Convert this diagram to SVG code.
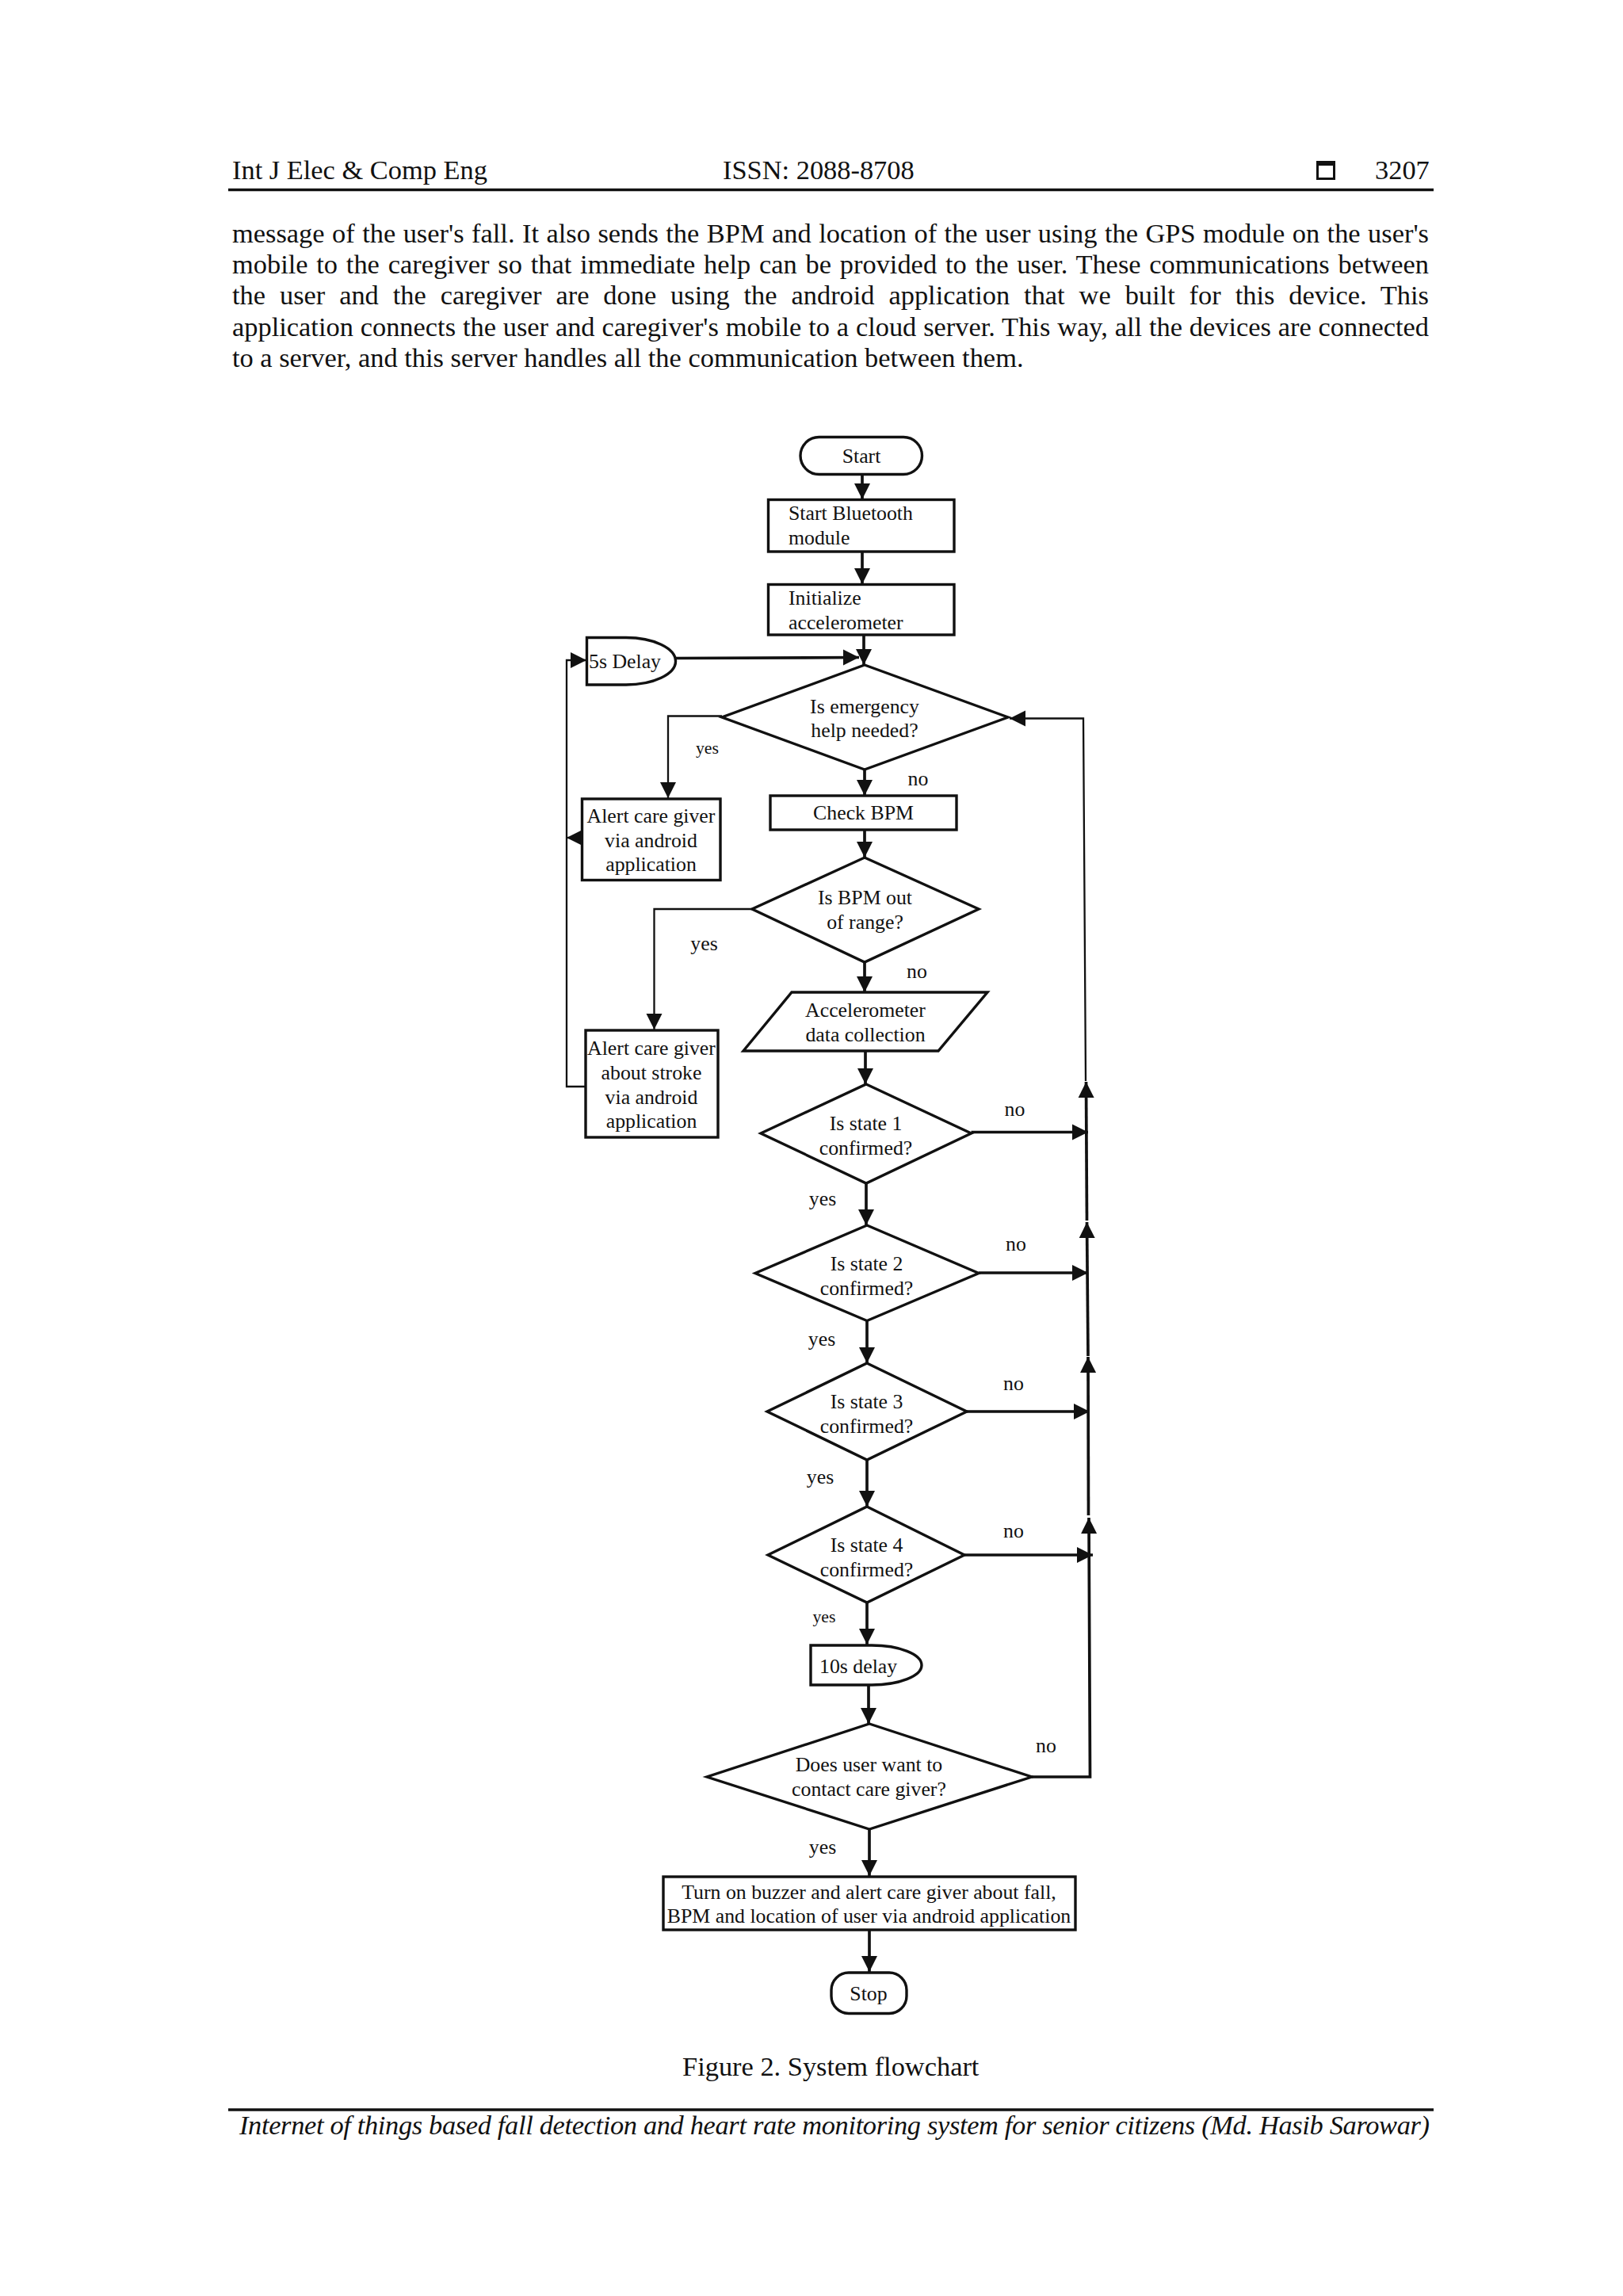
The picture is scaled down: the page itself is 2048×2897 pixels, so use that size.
<svg xmlns="http://www.w3.org/2000/svg" width="2048" height="2897" viewBox="0 0 2048 2897">
<style>
text{font-family:"Liberation Serif","Times New Roman",serif;fill:#111}
.p{font-size:34.4px}
.i{font-style:italic}
.n{font-size:25.8px;text-anchor:middle;transform:translateY(-1.2px)}
.l{text-anchor:start}
.s{font-size:21.8px;text-anchor:middle;transform:translateY(-1px)}
.b{fill:#fff;stroke:#111;stroke-width:3.4}
.c{fill:none;stroke:#111;stroke-width:3.7}
.t{fill:none;stroke:#111;stroke-width:2.3}
.a{marker-end:url(#ah)}
.r{stroke:#111;stroke-width:3.4}
</style>
<defs>
<marker id="ah" markerUnits="userSpaceOnUse" markerWidth="21" markerHeight="21" refX="20" refY="10.5" orient="auto" viewBox="0 0 21 21"><path d="M0,0.5 L20,10.5 L0,20.5 Z" fill="#111"/></marker>
</defs>
<rect width="2048" height="2897" fill="#fff"/>

<g id="page-text">
<text class="p" x="293" y="226">Int J Elec &amp; Comp Eng</text>
<text class="p" x="912" y="226">ISSN: 2088-8708</text>
<rect x="1662.5" y="204.5" width="21" height="21" fill="none" stroke="#111" stroke-width="3"/>
<rect x="1662" y="203" width="22" height="6" fill="#111"/>
<text class="p" x="1735" y="226">3207</text>
<line class="r" x1="288" y1="239.5" x2="1809" y2="239.5"/>
<text class="p" x="293" y="306" word-spacing="0.88" textLength="1510">message of the user's fall. It also sends the BPM and location of the user using the GPS module on the user's</text>
<text class="p" x="293" y="344.5" word-spacing="2.21" textLength="1510">mobile to the caregiver so that immediate help can be provided to the user. These communications between</text>
<text class="p" x="293" y="384" word-spacing="9.34" textLength="1510">the user and the caregiver are done using the android application that we built for this device. This</text>
<text class="p" x="293" y="423.5" word-spacing="0.24" textLength="1510">application connects the user and caregiver's mobile to a cloud server. This way, all the devices are connected</text>
<text class="p" x="293" y="463">to a server, and this server handles all the communication between them.</text>
<text class="p" x="861" y="2619">Figure 2. System flowchart</text>
<line class="r" x1="288" y1="2662" x2="1809" y2="2662"/>
<text class="p i" x="302" y="2693" textLength="1502">Internet of things based fall detection and heart rate monitoring system for senior citizens (Md. Hasib Sarowar)</text>
</g>

<g id="connectors">
<line class="c a" x1="1088" y1="598" x2="1088" y2="630"/>
<line class="c a" x1="1088" y1="696" x2="1088" y2="737"/>
<line class="c a" x1="1090" y1="801" x2="1090" y2="839"/>
<line class="c a" x1="852" y1="830.5" x2="1084" y2="829.5"/>
<polyline class="t a" points="911,903.5 843,903.5 843,1007"/>
<line class="c a" x1="1091" y1="971" x2="1091" y2="1004"/>
<line class="c a" x1="1091" y1="1047" x2="1091" y2="1082"/>
<polyline class="t a" points="949,1147 825.5,1147 825.5,1299"/>
<line class="c a" x1="1091" y1="1214" x2="1091" y2="1252"/>
<line class="c a" x1="1092" y1="1326" x2="1092" y2="1368"/>
<line class="c a" x1="1093" y1="1493" x2="1093" y2="1546"/>
<line class="c a" x1="1094" y1="1666" x2="1094" y2="1720"/>
<line class="c a" x1="1094" y1="1842" x2="1094" y2="1901"/>
<line class="c a" x1="1094" y1="2022" x2="1094" y2="2075"/>
<line class="c a" x1="1096" y1="2126" x2="1096" y2="2175"/>
<line class="c a" x1="1097" y1="2308" x2="1097" y2="2367"/>
<line class="c a" x1="1097" y1="2435" x2="1097" y2="2488"/>
<polyline class="t a" points="739,1371 715,1371 715,833 740,833"/>
<line class="t a" x1="734" y1="1057" x2="715" y2="1057"/>
<line class="c a" x1="1225.5" y1="1428.5" x2="1373" y2="1428.5"/>
<line class="c a" x1="1235" y1="1606" x2="1373" y2="1606"/>
<line class="c a" x1="1220" y1="1781" x2="1375" y2="1781"/>
<line class="c a" x1="1217" y1="1962" x2="1379" y2="1962"/>
<polyline class="c a" points="1302,2242 1375.5,2242 1374,1915"/>
<line class="c a" x1="1373.5" y1="1912" x2="1373" y2="1712"/>
<line class="c a" x1="1373" y1="1711" x2="1371.5" y2="1542"/>
<line class="c a" x1="1371.5" y1="1540" x2="1370.5" y2="1365"/>
<polyline class="t a" points="1370,1364 1367,906.5 1274,906.5"/>
</g>

<g id="start"><rect class="b" x="1010" y="551.5" width="153.5" height="47" rx="23.5"/><text class="n" x="1087" y="585">Start</text></g>
<g id="bluetooth"><rect class="b" x="969.5" y="630.5" width="234.5" height="65.5"/><text class="n l" x="995" y="657.5">Start Bluetooth</text><text class="n l" x="995" y="688.5">module</text></g>
<g id="init"><rect class="b" x="969.5" y="737.5" width="234.5" height="63.5"/><text class="n l" x="995" y="764.5">Initialize</text><text class="n l" x="995" y="795.5">accelerometer</text></g>
<g id="delay5"><path class="b" d="M740.5,804.5 H790 A62,29.5 0 0 1 790,864 H740.5 Z"/><text class="n l" x="743" y="844">5s Delay</text></g>
<g id="emergency"><polygon class="b" points="1091,839 1272,905 1091,971 911,905"/><text class="n" x="1091" y="901">Is emergency</text><text class="n" x="1091" y="931.5">help needed?</text></g>
<g id="alert1"><rect class="b" x="734.5" y="1008" width="174.5" height="102.5"/><text class="n" x="821.5" y="1039">Alert care giver</text><text class="n" x="821.5" y="1070">via android</text><text class="n" x="821.5" y="1100">application</text></g>
<g id="check"><rect class="b" x="972" y="1004" width="235" height="43"/><text class="n" x="1089.5" y="1035.5">Check BPM</text></g>
<g id="bpmrange"><polygon class="b" points="1091,1082 1235,1147 1091,1214 949,1147"/><text class="n" x="1091.5" y="1142.5">Is BPM out</text><text class="n" x="1091.5" y="1173">of range?</text></g>
<g id="alert2"><rect class="b" x="739" y="1300" width="167" height="135"/><text class="n" x="822" y="1332">Alert care giver</text><text class="n" x="822" y="1363">about stroke</text><text class="n" x="822" y="1394">via android</text><text class="n" x="822" y="1424.5">application</text></g>
<g id="collect"><polygon class="b" points="999,1252 1246,1252 1184,1326 938,1326"/><text class="n" x="1092" y="1284.5">Accelerometer</text><text class="n" x="1092" y="1315.5">data collection</text></g>
<g id="state1"><polygon class="b" points="1093,1368 1225.5,1430 1093,1493 960,1430"/><text class="n" x="1092.5" y="1427">Is state 1</text><text class="n" x="1092.5" y="1458">confirmed?</text></g>
<g id="state2"><polygon class="b" points="1094,1546 1235,1606.5 1094,1666.5 953,1606.5"/><text class="n" x="1093.5" y="1604.5">Is state 2</text><text class="n" x="1093.5" y="1635">confirmed?</text></g>
<g id="state3"><polygon class="b" points="1094,1720 1220,1781 1094,1842 968,1781"/><text class="n" x="1093.5" y="1778.5">Is state 3</text><text class="n" x="1093.5" y="1809">confirmed?</text></g>
<g id="state4"><polygon class="b" points="1094,1901 1217,1962 1094,2022 969,1962"/><text class="n" x="1093.5" y="1959.5">Is state 4</text><text class="n" x="1093.5" y="1990">confirmed?</text></g>
<g id="delay10"><path class="b" d="M1023,2076 H1100 A63,25 0 0 1 1100,2126 H1023 Z"/><text class="n l" x="1034" y="2112">10s delay</text></g>
<g id="contact"><polygon class="b" points="1097,2175 1302,2242 1097,2308 892,2242"/><text class="n" x="1096.5" y="2236.5">Does user want to</text><text class="n" x="1096.5" y="2267">contact care giver?</text></g>
<g id="buzzer"><rect class="b" x="837" y="2368" width="520" height="67"/><text class="n" x="1096.5" y="2397">Turn on buzzer and alert care giver about fall,</text><text class="n" x="1096.5" y="2427">BPM and location of user via android application</text></g>
<g id="stop"><rect class="b" x="1049" y="2489" width="95" height="51.5" rx="22"/><text class="n" x="1096" y="2525.5">Stop</text></g>

<g id="labels">
<text class="s" x="892.5" y="952">yes</text>
<text class="n" x="1158.5" y="992">no</text>
<text class="n" x="888.5" y="1200">yes</text>
<text class="n" x="1157" y="1235.5">no</text>
<text class="n" x="1280.5" y="1409">no</text>
<text class="n" x="1038" y="1522">yes</text>
<text class="n" x="1282" y="1579">no</text>
<text class="n" x="1037" y="1699.5">yes</text>
<text class="n" x="1279" y="1755">no</text>
<text class="n" x="1035" y="1873.5">yes</text>
<text class="n" x="1279" y="1941.5">no</text>
<text class="s" x="1040" y="2048">yes</text>
<text class="n" x="1320" y="2212">no</text>
<text class="n" x="1038" y="2340.5">yes</text>
</g>
</svg>
